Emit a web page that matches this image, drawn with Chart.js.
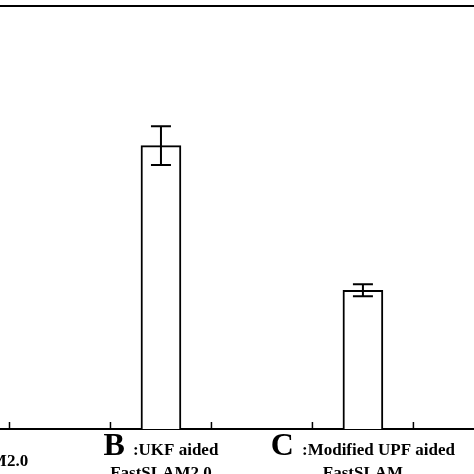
<!DOCTYPE html>
<html><head><meta charset="utf-8">
<script src="https://cdn.jsdelivr.net/npm/chart.js@4/dist/chart.umd.min.js"></script>
<style>html,body{margin:0;padding:0;background:#fff;overflow:hidden}#w{width:474px;height:474px}</style>
</head><body><div id="w"><canvas id="c"></canvas></div>
<script>
const categoryPos = [1, 2, 3];
const categoryLetters = ["A", "B", "C"];
const categoryLine1 = [":FastSLAM2.0", ":UKF aided", ":Modified UPF aided"];
const categoryLine2 = ["", "FastSLAM2.0", "FastSLAM"];
const values = [null, 67, 32.8];
const errors = [null, 4.6, 1.4];
const minorTicks = [1.25, 1.75, 2.25, 2.75, 3.25];

const FONT = '"Liberation Serif", "Times New Roman", serif';
const deco = {
  id: 'deco',
  afterDatasetsDraw(chart) {
    const {ctx, chartArea: a, scales: {x, y}} = chart;
    ctx.save();
    ctx.strokeStyle = '#000';
    ctx.lineWidth = 2;
    ctx.beginPath(); ctx.moveTo(a.left, a.top); ctx.lineTo(a.right, a.top); ctx.stroke();
    ctx.lineWidth = 1.5;
    minorTicks.forEach(t => {
      const px = x.getPixelForValue(t);
      ctx.beginPath(); ctx.moveTo(px, a.bottom); ctx.lineTo(px, a.bottom - 7); ctx.stroke();
    });
    ctx.lineWidth = 2;
    values.forEach((v, i) => {
      if (v == null) return;
      const px = x.getPixelForValue(categoryPos[i]);
      const y1 = y.getPixelForValue(v + errors[i]), y2 = y.getPixelForValue(v - errors[i]);
      ctx.beginPath();
      ctx.moveTo(px, y1); ctx.lineTo(px, y2);
      ctx.moveTo(px - 10, y1); ctx.lineTo(px + 10, y1);
      ctx.moveTo(px - 10, y2); ctx.lineTo(px + 10, y2);
      ctx.stroke();
    });
    ctx.fillStyle = '#000';
    ctx.textBaseline = 'alphabetic';
    categoryPos.forEach((p, i) => {
      const cx = x.getPixelForValue(p);
      const big = 'bold 32px ' + FONT, small = 'bold 17px ' + FONT;
      const two = categoryLine2[i] !== '';
      const base1 = two ? a.bottom + 26 : a.bottom + 37;
      ctx.font = big; const wb = ctx.measureText(categoryLetters[i] + ' ').width;
      ctx.font = small; const ws = ctx.measureText(categoryLine1[i]).width;
      let sx = cx - (wb + ws) / 2;
      ctx.textAlign = 'left';
      ctx.font = big; ctx.fillText(categoryLetters[i] + ' ', sx, base1);
      ctx.font = small; ctx.fillText(categoryLine1[i], sx + wb, base1);
      if (two) { ctx.textAlign = 'center'; ctx.fillText(categoryLine2[i], cx, a.bottom + 49); }
    });
    ctx.restore();
  }
};

new Chart(document.getElementById('c'), {
  type: 'bar',
  data: { datasets: [{
    data: categoryPos.map((p, i) => ({x: p, y: values[i]})),
    backgroundColor: '#fff', borderColor: '#000', borderWidth: 2, barThickness: 40
  }]},
  options: {
    responsive: true, maintainAspectRatio: false, animation: false,
    layout: { padding: { left: 0, right: 0, top: 6, bottom: 45 } },
    plugins: { legend: { display: false }, tooltip: { enabled: false } },
    scales: {
      x: { type: 'linear', min: 1.203, max: 3.55, offset: false,
           grid: { display: false, drawTicks: false }, ticks: { display: false },
           border: { display: true, color: '#000', width: 2 } },
      y: { min: 0, max: 100, display: false }
    }
  },
  plugins: [deco]
});
</script></body></html>
